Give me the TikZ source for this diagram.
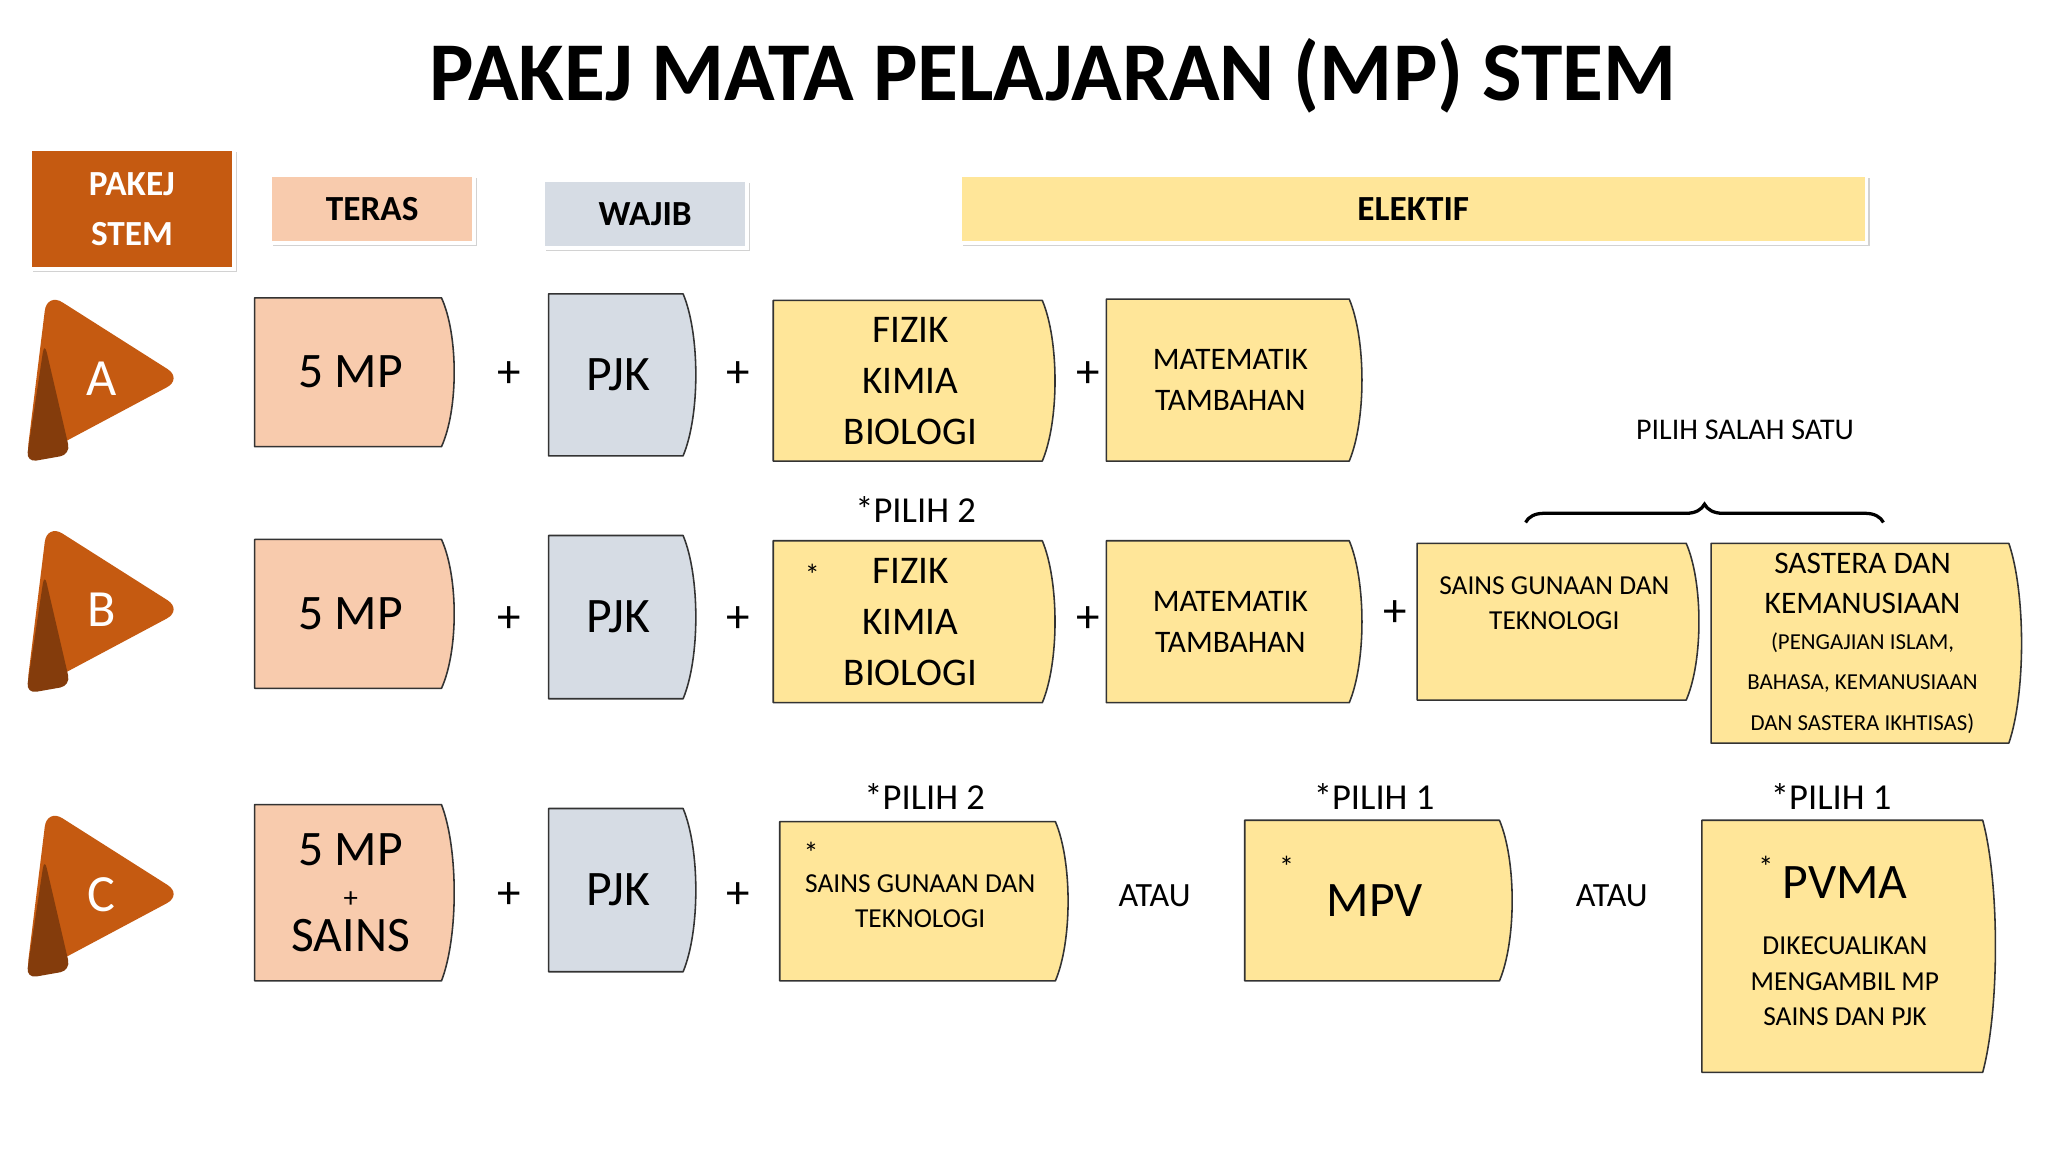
\documentclass[tikz,border=0pt]{standalone}
\usepackage{fontspec}
\setmainfont{Carlito}
\usetikzlibrary{shadows,decorations.pathreplacing}
\definecolor{pk}{HTML}{F8CBAD}
\definecolor{gy}{HTML}{D6DCE4}
\definecolor{yl}{HTML}{FFE699}
\definecolor{og}{HTML}{C55A11}
\definecolor{ogd}{HTML}{843C0C}
\newcommand\card[8]{%
  \filldraw[fill=#6,draw=black!80,line width=1.2pt,line join=round]
  (#2,#3) -- ({#4-12},#3) .. controls ({#4+1},{#3+0.25*(#5-#3)}) and ({#4+1},{#5-0.25*(#5-#3)}) .. ({#4-12},#5) -- (#2,#5) -- cycle;
  \node[align=center,#7] (#1) at ({(#2+#4)/2-4},{(#3+#5)/2}) {#8};}
\newcommand\tri[3]{%
  \fill[og,rounded corners=14pt] (36,{#2-66}) -- (140,#2) -- (20,{#2+64}) -- cycle;
  \fill[ogd,rounded corners=8pt] (34,{#2-28}) -- (54,{#2+58}) -- (20,{#2+64}) -- cycle;
  \node[text=white,font=\fontsize{40}{40}\selectfont] (#1) at (78,#2) {#3};}
\tikzset{hdr/.style={draw=white,line width=3pt,drop shadow={opacity=0.35},font=\bfseries\fontsize{27}{30}\selectfont,align=center,inner sep=0},
 plus/.style={font=\fontsize{36}{36}\selectfont},
 fb/.style={font=\fontsize{38}{40}\selectfont},
 fm/.style={font=\fontsize{30}{39}\selectfont},
 fs/.style={font=\fontsize{24}{31}\selectfont},
 fx/.style={font=\fontsize{21}{27}\selectfont},
 sm/.style={font=\fontsize{23}{30}\selectfont},
 lbl/.style={font=\fontsize{28}{30}\selectfont}}
\begin{document}
\begin{tikzpicture}[x=1pt,y=-1pt]
\useasboundingbox[fill=white] (0,0) rectangle (1568,882);
\node[font=\bfseries\fontsize{64}{64}\selectfont] (title) at (806,58) {PAKEJ MATA PELAJARAN (MP) STEM};
\node[hdr,fill=og,text=white,minimum width=156pt,minimum height=92pt,font=\bfseries\fontsize{27}{38}\selectfont] (hp) at (101,160) {PAKEJ\\STEM};
\node[hdr,fill=pk,minimum width=156pt,minimum height=52pt] (ht) at (285,160) {TERAS};
\node[hdr,fill=gy,minimum width=156pt,minimum height=52pt] (hw) at (494,164) {WAJIB};
\node[hdr,fill=yl,minimum width=694pt,minimum height=52pt] (he) at (1082,160) {ELEKTIF};
% row A
\tri{ta}{290}{A}
\card{a1}{195}{228}{350}{342}{pk}{fb}{5 MP}
\node[plus] (ap1) at (390,287) {+};
\card{a2}{420}{225}{535}{349}{gy}{fb}{PJK}
\node[plus] (ap2) at (565,287) {+};
\card{a3}{592}{230}{810}{353}{yl}{fm}{FIZIK\\KIMIA\\BIOLOGI}
\node[plus] (ap3) at (833,287) {+};
\card{a4}{847}{229}{1045}{353}{yl}{fs}{MATEMATIK\\TAMBAHAN}
\node[sm] (pss) at (1336,329) {PILIH SALAH SATU};
\draw[decorate,decoration={brace,amplitude=14pt},line width=2.5pt] (1168,400) -- (1442,400);
\node[lbl] (p2a) at (701,390) {*PILIH 2};
% row B
\tri{tb}{467}{B}
\card{b1}{195}{413}{350}{527}{pk}{fb}{5 MP}
\node[plus] (bp1) at (390,474) {+};
\card{b2}{420}{410}{535}{535}{gy}{fb}{PJK}
\node[plus] (bp2) at (565,474) {+};
\card{b3}{592}{414}{810}{538}{yl}{fm}{FIZIK\\KIMIA\\BIOLOGI}
\node[sm] (bs3) at (622,440) {*};
\node[plus] (bp3) at (833,474) {+};
\card{b4}{847}{414}{1045}{538}{yl}{fs}{MATEMATIK\\TAMBAHAN}
\node[plus] (bp4) at (1068,470) {+};
\card{b5}{1085}{416}{1303}{536}{yl}{fx,yshift=-6pt}{SAINS GUNAAN DAN\\TEKNOLOGI\\[14pt]}
\card{b6}{1310}{416}{1550}{569}{yl}{fs}{SASTERA DAN\\KEMANUSIAAN\\[-4pt]\fontsize{17.5}{23}\selectfont (PENGAJIAN ISLAM,\\\fontsize{17.5}{23}\selectfont BAHASA, KEMANUSIAAN\\\fontsize{17.5}{23}\selectfont DAN SASTERA IKHTISAS)}
% row C
\tri{tc}{685}{C}
\node[lbl] (p2c) at (708,610) {*PILIH 2};
\node[lbl] (p1c) at (1052,610) {*PILIH 1};
\node[lbl] (p1d) at (1402,610) {*PILIH 1};
\card{c1}{195}{616}{350}{751}{pk}{fb}{5 MP\\[-8pt]\fontsize{22}{22}\selectfont +\\[-6pt]SAINS}
\node[plus] (cp1) at (390,686) {+};
\card{c2}{420}{619}{535}{744}{gy}{fb}{PJK}
\node[plus] (cp2) at (565,686) {+};
\card{c3}{597}{629}{820}{751}{yl}{fx}{SAINS GUNAAN DAN\\TEKNOLOGI}
\node[sm] (cs3) at (621,653) {*};
\node[font=\fontsize{26}{30}\selectfont] (at1) at (884,686) {ATAU};
\card{c4}{953}{628}{1160}{751}{yl}{fb}{MPV}
\node[sm] (cs4) at (985,664) {*};
\node[font=\fontsize{26}{30}\selectfont] (at2) at (1234,686) {ATAU};
\card{c5}{1303}{628}{1530}{821}{yl}{fx}{\fontsize{38}{40}\selectfont PVMA\\[16pt]DIKECUALIKAN\\MENGAMBIL MP\\SAINS DAN PJK}
\node[sm] (cs5) at (1352,664) {*};
\end{tikzpicture}
\end{document}
